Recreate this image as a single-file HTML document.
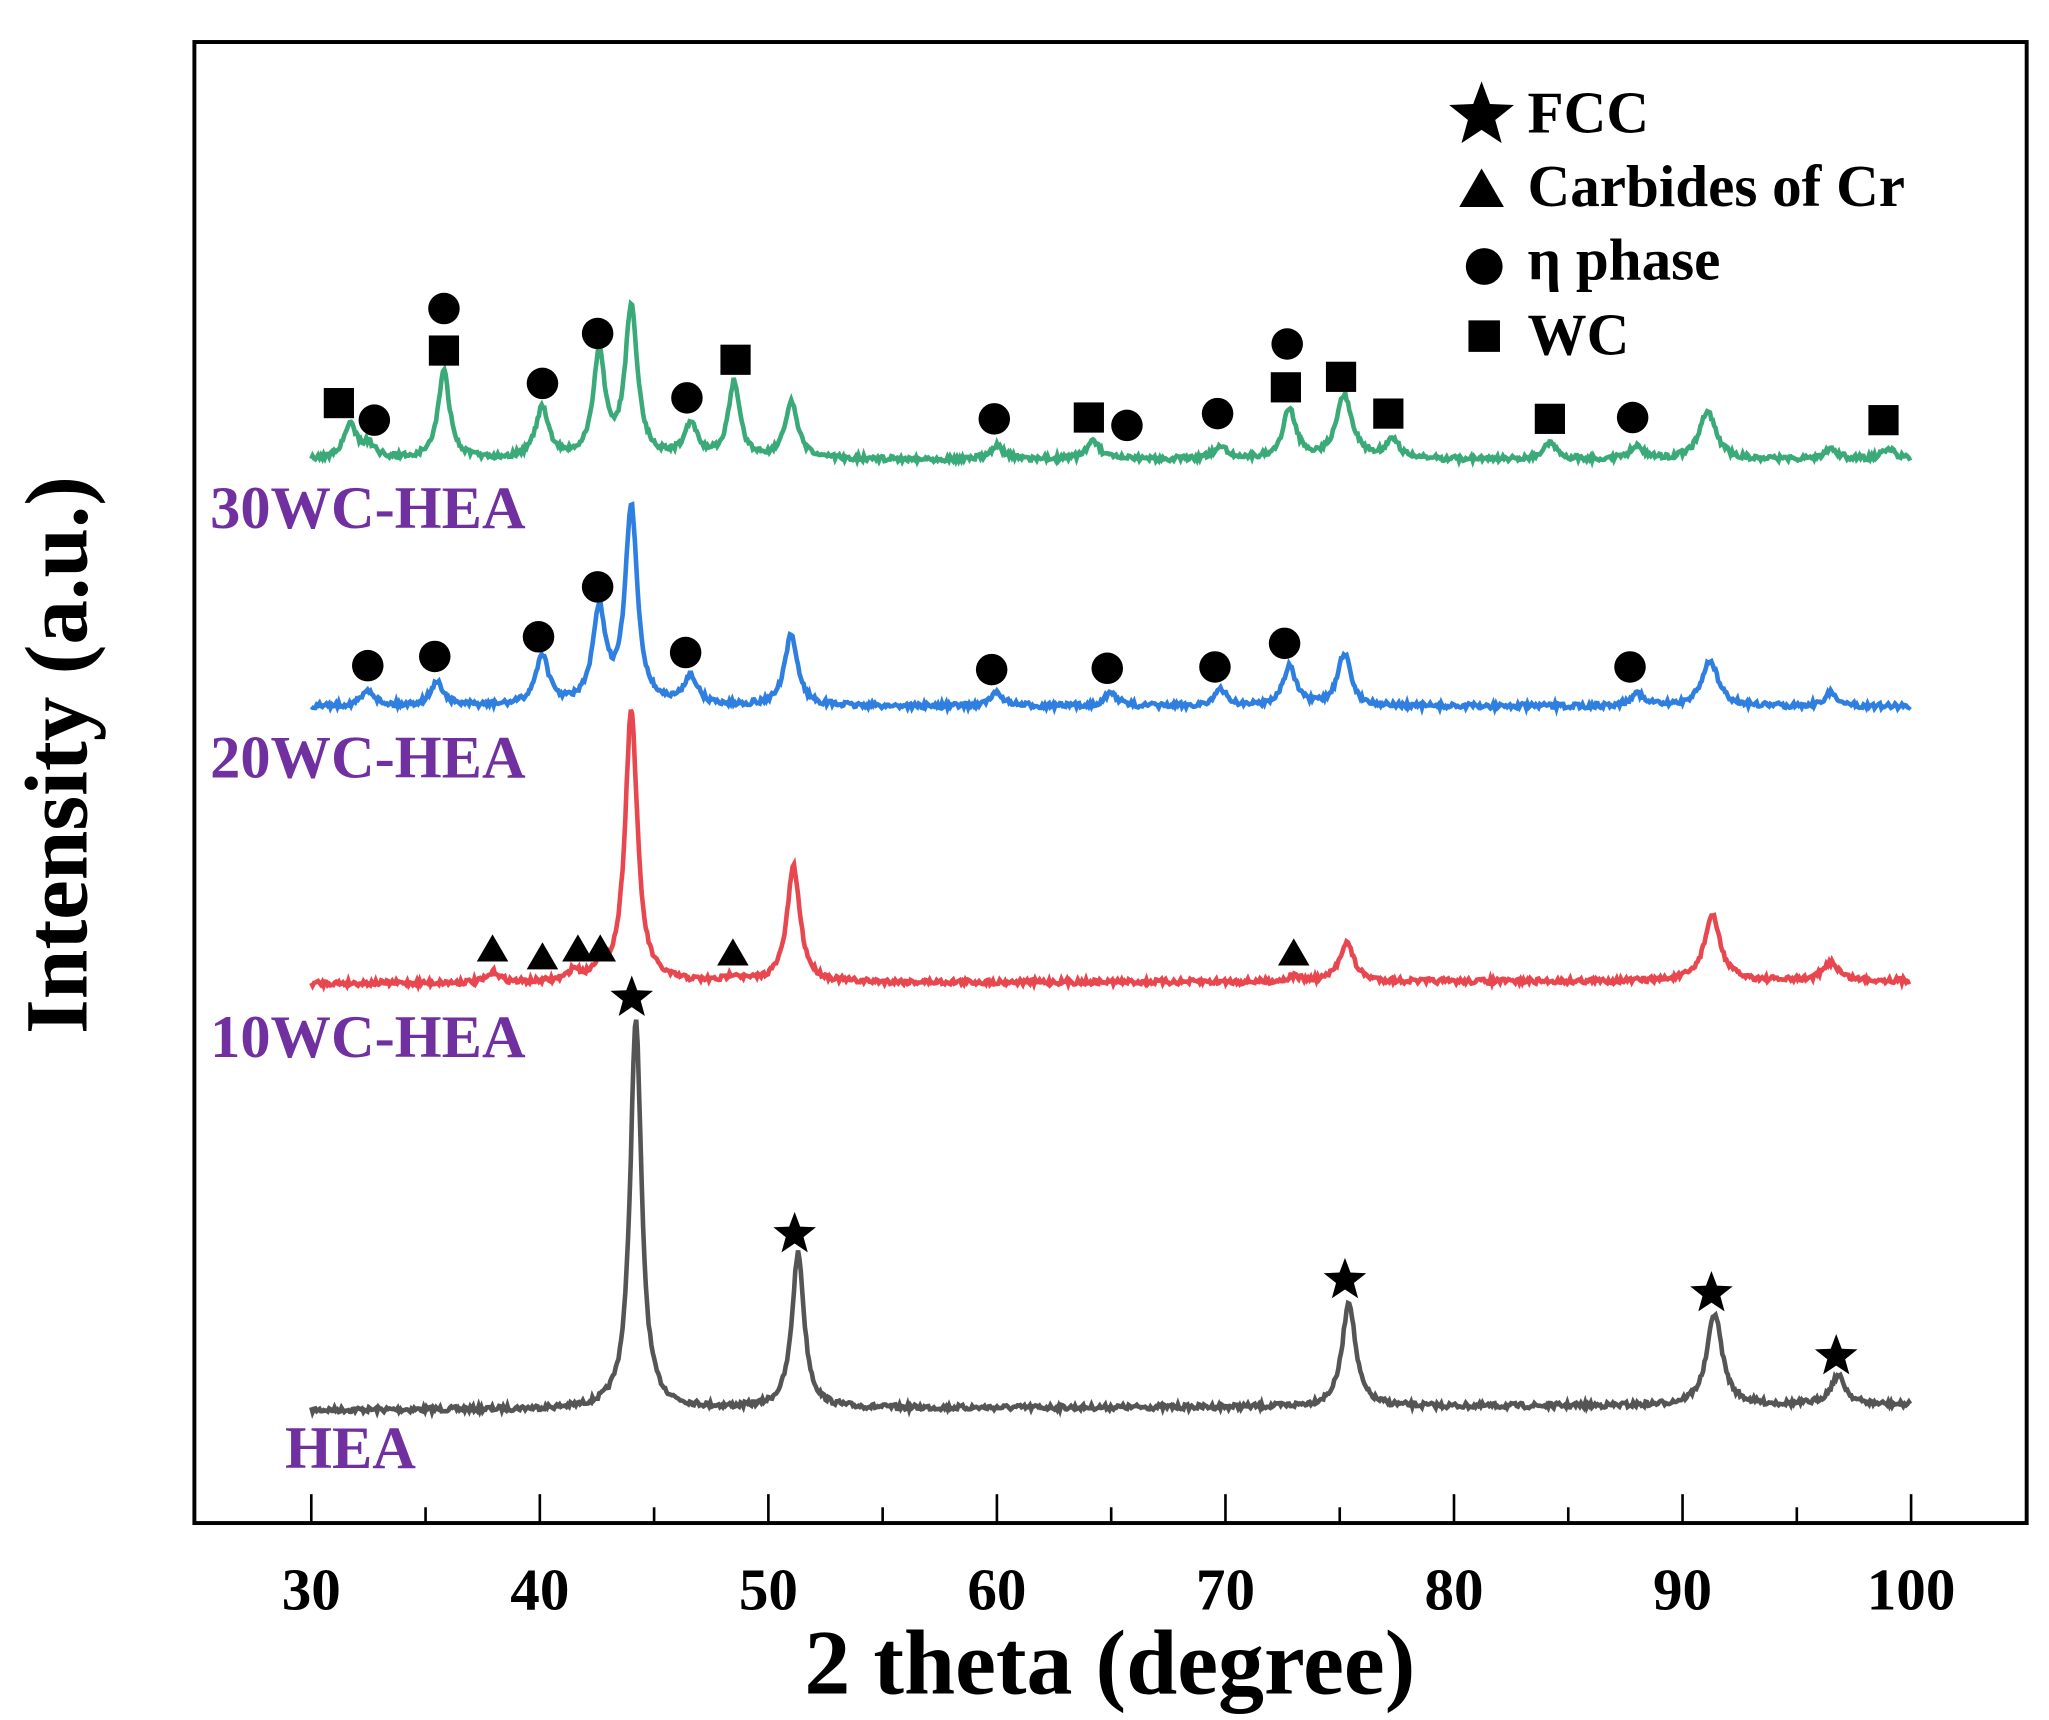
<!DOCTYPE html>
<html><head><meta charset="utf-8"><style>
html,body{margin:0;padding:0;background:#fff;}
svg{display:block;}
text{font-family:"Liberation Serif",serif;font-weight:bold;}
</style></head><body>
<svg id="s" width="2049" height="1720" viewBox="0 0 1560 1310" preserveAspectRatio="none" xmlns="http://www.w3.org/2000/svg">
<rect x="148" y="32" width="1395" height="1128" fill="none" stroke="#000" stroke-width="3"/>
<g id="ticks" stroke="#000" stroke-width="2"></g>
<g font-size="45" text-anchor="middle">
<text x="237" y="1226">30</text><text x="411" y="1226">40</text><text x="585" y="1226">50</text><text x="759" y="1226">60</text><text x="933" y="1226">70</text><text x="1107" y="1226">80</text><text x="1281" y="1226">90</text><text x="1455" y="1226">100</text>
</g>
<text x="845" y="1290" font-size="70" text-anchor="middle">2 theta (degree)</text>
<text transform="translate(66,575) rotate(-90)" font-size="68" text-anchor="middle">Intensity (a.u.)</text>
<g id="curves" fill="none" stroke-width="3.5"></g>
<g fill="#7030a0" font-size="46">
<text x="160" y="402">30WC-HEA</text>
<text x="160" y="592">20WC-HEA</text>
<text x="160" y="805">10WC-HEA</text>
<text x="217" y="1118">HEA</text>
</g>
<g id="marks" fill="#000"></g>
<g font-size="45">
<text x="1163" y="101">FCC</text>
<text x="1163" y="157">Carbides of Cr</text>
<text x="1163" y="213">η phase</text>
<text x="1163" y="270">WC</text>
</g>
</svg>
<script>
var NS="http://www.w3.org/2000/svg";
function el(p,t,a){var e=document.createElementNS(NS,t);for(var k in a)e.setAttribute(k,a[k]);document.getElementById(p).appendChild(e);return e;}
function X(d){return 237+(d-30)*17.4;}
for(var d=30;d<=100;d+=5){var maj=d%10==0;el("ticks","line",{x1:X(d),x2:X(d),y1:1160,y2:1160-(maj?22:12)});}
var seed=7;function rnd(){seed=(seed*16807)%2147483647;return seed/2147483647;}
function curve(col,b0,b1,peaks,w,noise){
 var pts=[];
 for(var d=30;d<=100;d+=0.06){
  var y=b0+(b1-b0)*(d-30)/70;
  for(var i=0;i<peaks.length;i++){var p=peaks[i],ww=p[2]||w,t=(d-p[0])/ww;y-=p[1]/(1+t*t);}
  y+=(rnd()-0.5)*noise;
  pts.push(X(d).toFixed(1)+","+y.toFixed(1));
 }
 el("curves","polyline",{points:pts.join(" "),stroke:col});
}
curve("#555",1074,1070,[[44.2,296,0.3],[51.3,118,0.32],[75.4,80,0.35],[91.4,70,0.4],[96.8,22,0.4]],0.3,4);
curve("#e8474f",749,747,[[44,208,0.32],[51.1,88,0.34],[75.3,30,0.37],[91.3,50,0.42],[96.5,14,0.4],[38,8],[41.5,8],[42.6,10],[48.5,5],[73,4]],0.3,4);
curve("#2f7fe0",538,538,[[32.5,12],[35.5,18],[40.1,38],[42.6,70],[44,150,0.32],[46.6,22],[51,54],[60,10],[65,10],[69.8,12],[72.8,30],[75.2,40],[88,10],[91.2,35,0.42],[96.5,10]],0.34,4);
curve("#3aaa78",350,350,[[31.7,25],[32.5,10],[35.8,67,0.3],[40.1,38],[42.6,80,0.3],[44,115,0.32],[46.6,25],[48.5,58,0.3],[51,42],[60,10],[64.2,14],[69.8,10],[72.8,38],[75.2,48,0.42],[77.3,15],[84.2,12],[88,10],[91.1,37,0.42],[96.5,8],[99,8]],0.34,4);
function star(cx,cy,r){var p=[];for(var i=0;i<10;i++){var a=-Math.PI/2+i*Math.PI/5,rr=i%2?r*0.42:r;p.push((cx+rr*Math.cos(a)).toFixed(1)+","+(cy+rr*Math.sin(a)).toFixed(1));}el("marks","polygon",{points:p.join(" ")});}
function tri(cx,cy,s){el("marks","polygon",{points:(cx-s/2)+","+(cy+s*0.43)+" "+(cx+s/2)+","+(cy+s*0.43)+" "+cx+","+(cy-s*0.43)});}
function circ(cx,cy,r){el("marks","circle",{cx:cx,cy:cy,r:r});}
function sq(cx,cy,s){el("marks","rect",{x:cx-s/2,y:cy-s/2,width:s,height:s});}
[[481,760],[605,940],[1024,975],[1303,985],[1398,1033]].forEach(function(p){star(p[0],p[1],17);});
[[375,722],[413,728],[440,722],[457,722],[558,725],[985,725]].forEach(function(p){tri(p[0],p[1],24);});
[[280,507],[331,500],[410,485],[455,447],[522,497],[755,510],[843,509],[925,508],[978,490],[1241,508]].forEach(function(p){circ(p[0],p[1],12);});
[[258,307],[338,267],[560,274],[829,318],[979,295],[1021,287],[1057,315],[1180,319],[1434,320]].forEach(function(p){sq(p[0],p[1],23);});
[[285,320],[338,235],[413,292],[455,254],[523,303],[757,319],[858,324],[927,315],[980,262],[1243,318]].forEach(function(p){circ(p[0],p[1],12);});
star(1128,88,26);tri(1128,143,34);circ(1130,203,14);sq(1130,256,24);
</script>
</body></html>
